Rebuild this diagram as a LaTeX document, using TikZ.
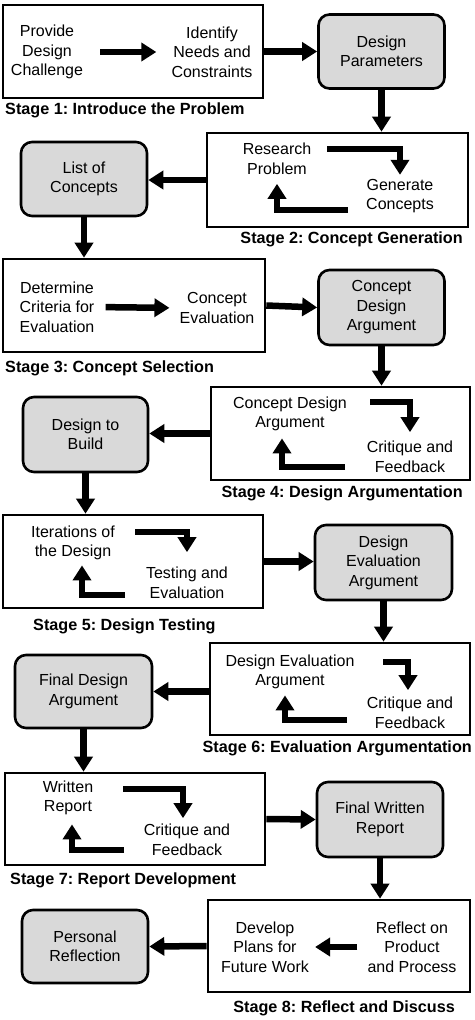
\documentclass[tikz,border=0pt]{standalone}
\usepackage{fontspec}
\setmainfont{Liberation Sans}
\usetikzlibrary{arrows.meta}
\frenchspacing

\begin{document}
\begin{tikzpicture}[x=1pt,y=-1pt,
  stagebox/.style={
    draw,
    line width=2.6pt,
    minimum width=260pt,
    minimum height=93pt
  },
  outbox/.style={
    draw,
    line width=2.6pt,
    rounded corners=11pt,
    fill=gray!30,
    align=center,
    minimum width=126pt,
    minimum height=74pt,
    font=\fontsize{16}{19.5}\selectfont
  },
  txt/.style={
    align=center,
    inner sep=0pt,
    font=\fontsize{16}{19.5}\selectfont
  },
  stagelbl/.style={
    inner sep=0pt,
    font=\fontsize{16.2}{19}\selectfont\bfseries
  },
  fat/.style={
    line width=6.5pt,
    -{Triangle[length=15pt,width=18pt]}
  }]
  \useasboundingbox (0,0) rectangle (474,1020);

  % Stage 1
  \node[stagebox] (s1) at (133,51.5) {};
  \node[txt] (pdc) at (47,52) {Provide\\Design\\Challenge};
  \node[txt] (inc) at (212,52) {Identify\\Needs and\\Constraints};
  \node[outbox] (dp) at (381.5,51.5) {Design\\Parameters};
  \node[stagelbl,anchor=west] (l1) at (5,110) {Stage 1: Introduce the Problem};
  \draw[fat,shorten <=17pt,shorten >=15pt] (pdc.east) -- (inc.west);
  \draw[fat] (s1.east) -- (dp.west);

  % Stage 2
  \node[stagebox,minimum width=261pt,minimum height=94pt] (s2) at (337.5,180) {};
  \node[txt] (rp) at (277,159) {Research\\Problem};
  \node[txt] (gc) at (400,196) {Generate\\Concepts};
  \node[outbox] (loc) at (84,179) {List of\\Concepts};
  \node[stagelbl,anchor=east] (l2) at (463,239) {Stage 2: Concept Generation};
  \coordinate (s2a) at (327,149);
  \coordinate (s2b) at (348,210);
  \draw[fat] (dp.south) -- (dp.south |- s2.north);
  \draw[fat] (s2a) -| ([yshift=4pt]gc.north);
  \draw[fat] (s2b) -| ([yshift=-9pt]rp.south);
  \draw[fat] (s2.west) -- (loc.east |- s2.west);

  % Stage 3
  \node[stagebox,minimum width=262pt] (s3) at (134,305.5) {};
  \node[txt] (dce) at (57,307) {Determine\\Criteria for\\Evaluation};
  \node[txt] (cev) at (217,308) {Concept\\Evaluation};
  \node[outbox,minimum height=75pt] (cda) at (381.5,307.5) {Concept\\Design\\Argument};
  \node[stagelbl,anchor=west] (l3) at (5,368) {Stage 3: Concept Selection};
  \draw[fat] (loc.south) -- (loc.south |- s3.north);
  \draw[fat,shorten <=11pt,shorten >=10pt] (dce.east) -- (cev.west);
  \draw[fat] (s3.east) -- (cda.west);

  % Stage 4
  \node[stagebox,minimum width=259pt] (s4) at (340.5,433.5) {};
  \node[txt] (cda2) at (290,414) {Concept Design\\Argument};
  \node[txt] (cf4) at (410,457) {Critique and\\Feedback};
  \node[outbox,minimum width=125pt,minimum height=75pt] (dtb) at (85.5,434.5) {Design to\\Build};
  \node[stagelbl,anchor=east] (l4) at (463,493) {Stage 4: Design Argumentation};
  \coordinate (s4a) at (370,402);
  \coordinate (s4b) at (345,467);
  \draw[fat] (cda.south) -- (cda.south |- s4.north);
  \draw[fat] (s4a) -| ([yshift=9pt]cf4.north);
  \draw[fat] (s4b) -| ([xshift=-8pt,yshift=-7pt]cda2.south);
  \draw[fat] (s4.west) -- (dtb.east |- s4.west);

  % Stage 5
  \node[stagebox] (s5) at (133,561.5) {};
  \node[txt] (itd) at (73,543) {Iterations of\\the Design};
  \node[txt] (tae) at (187,583) {Testing and\\Evaluation};
  \node[outbox,minimum width=137pt,minimum height=75pt] (dea) at (383.5,562.5) {Design\\Evaluation\\Argument};
  \node[stagelbl,anchor=west] (l5) at (33,626) {Stage 5: Design Testing};
  \coordinate (s5a) at (135,532);
  \coordinate (s5b) at (125,595);
  \draw[fat] (dtb.south) -- (dtb.south |- s5.north);
  \draw[fat] (s5a) -| ([yshift=15pt]tae.north);
  \draw[fat] (s5b) -| ([xshift=9pt,yshift=-5pt]itd.south);
  \draw[fat] (s5.east) -- (dea.west |- s5.east);

  % Stage 6
  \node[stagebox,minimum height=92pt] (s6) at (340,689) {};
  \node[txt] (dea2) at (290,672) {Design Evaluation\\Argument};
  \node[txt] (cf6) at (410,713) {Critique and\\Feedback};
  \node[outbox,minimum width=137pt,minimum height=73pt] (fda) at (83.5,691.5) {Final Design\\Argument};
  \node[stagelbl,anchor=east] (l6) at (472,748) {Stage 6: Evaluation Argumentation};
  \coordinate (s6a) at (383,662);
  \coordinate (s6b) at (347,720);
  \draw[fat] (dea.south) -- (dea.south |- s6.north);
  \draw[fat] (s6a) -| ([xshift=-2pt,yshift=7pt]cf6.north);
  \draw[fat] (s6b) -| ([xshift=-5pt,yshift=-6pt]dea2.south);
  \draw[fat] (fda.east -| s6.west) -- (fda.east);

  % Stage 7
  \node[stagebox,minimum height=92pt] (s7) at (135,819) {};
  \node[txt] (wr) at (68,798) {Written\\Report};
  \node[txt] (cf7) at (187,840) {Critique and\\Feedback};
  \node[outbox,minimum height=75pt] (fwr) at (380,819.5) {Final Written\\Report};
  \node[stagelbl,anchor=west] (l7) at (10,880) {Stage 7: Report Development};
  \coordinate (s7a) at (123,789);
  \coordinate (s7b) at (124,850);
  \draw[fat] (fda.south) -- (fda.south |- s7.north);
  \draw[fat] (s7a) -| ([xshift=-4pt,yshift=6pt]cf7.north);
  \draw[fat] (s7b) -| ([xshift=4pt,yshift=-9pt]wr.south);
  \draw[fat] (s7.east) -- (fwr.west);

  % Stage 8
  \node[stagebox,minimum width=262pt,minimum height=92pt] (s8) at (339,946) {};
  \node[txt] (dpf) at (265,947) {Develop\\Plans for\\Future Work};
  \node[txt] (rpp) at (412,947) {Reflect on\\Product\\and Process};
  \node[outbox,minimum height=73pt] (pr) at (85,946.5) {Personal\\Reflection};
  \node[stagelbl,anchor=east] (l8) at (455,1008) {Stage 8: Reflect and Discuss};
  \draw[fat] (fwr.south) -- (fwr.south |- s8.north);
  \draw[fat,shorten <=10pt,shorten >=6pt] (rpp.west) -- (dpf.east);
  \draw[fat] (s8.west) -- (pr.east);

\end{tikzpicture}
\end{document}
